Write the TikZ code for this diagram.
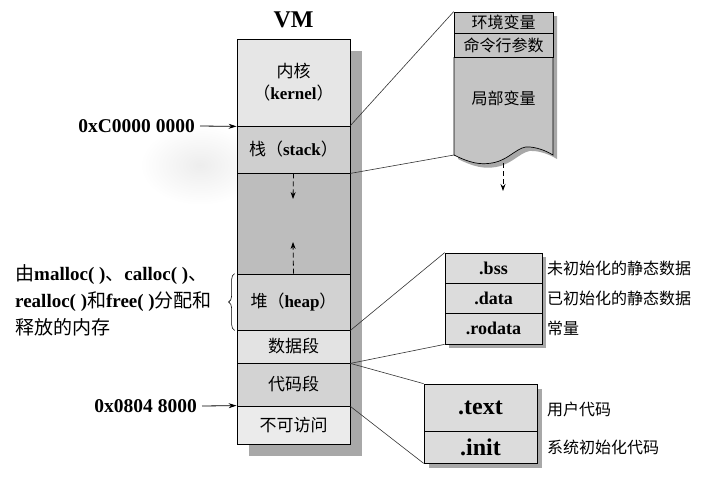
\documentclass[tikz,border=0pt]{standalone}
\usepackage{fontspec}
\setmainfont{Liberation Serif}
\newfontfamily\cjk{Noto Sans CJK SC}
\usetikzlibrary{arrows.meta,decorations.pathreplacing}
\newcommand\zh[1]{{\cjk\mdseries #1}}
\definecolor{cKern}{HTML}{E6E6E6}
\definecolor{cStack}{HTML}{CFCFCF}
\definecolor{cGap}{HTML}{BDBDBD}
\definecolor{cHeap}{HTML}{D2D2D2}
\definecolor{cData}{HTML}{E3E3E3}
\definecolor{cCode}{HTML}{D3D3D3}
\definecolor{cNoacc}{HTML}{EBEBEB}
\definecolor{cShadow}{HTML}{A8A8A8}
\definecolor{cFrame}{HTML}{C4C4C4}
\definecolor{cBox}{HTML}{DCDCDC}
\begin{document}
\begin{tikzpicture}[x=1pt,y=-1pt,
  seg/.style={draw=black, line width=0.8pt, minimum width=113pt, inner sep=0pt, align=center,
    font=\fontsize{17}{22}\selectfont\bfseries},
  frow/.style={draw=black, line width=0.7pt, minimum width=99pt, inner sep=0pt, fill=cFrame,
    font=\fontsize{16}{18}\selectfont\cjk},
  dbox/.style={draw=black, line width=0.7pt, minimum width=97pt, inner sep=0pt, fill=cBox,
    font=\fontsize{18}{20}\selectfont\bfseries},
  tbox/.style={draw=black, line width=0.7pt, minimum width=113pt, inner sep=0pt, fill=cBox,
    font=\fontsize{24}{26}\selectfont\bfseries},
  lab/.style={anchor=west, inner sep=0pt, font=\fontsize{16}{18}\selectfont\cjk},
  conn/.style={line width=0.6pt, draw=black!80},
  addr/.style={anchor=east, inner sep=0pt, font=\fontsize{19.5}{22}\selectfont\bfseries},
  addrarrow/.style={line width=0.8pt, -{Stealth[length=8pt,width=5pt]}},
  dasharrow/.style={line width=0.8pt, dash pattern=on 5pt off 3pt, -{Stealth[length=7pt,width=5pt]}}
]
\useasboundingbox (0,0) rectangle (727,477);
% faint smudge
\shade[inner color=black!7, outer color=white] (200,165) ellipse (60 and 40);

% title
\node[font=\fontsize{24}{26}\selectfont\bfseries] (vm) at (293.5,20) {VM};

% column shadow
\fill[cShadow] (249,51) rectangle (362,456);

% column segments
\node[seg, minimum height=87pt, fill=cKern] (kernel) at (293.5,82.5) {\zh{内核}\\\zh{（}kernel\zh{）}};
\node[seg, minimum height=47pt, fill=cStack] (stack) at (293.5,149.5) {\zh{栈（}stack\zh{）}};
\node[seg, minimum height=101pt, fill=cGap] (gap) at (293.5,223.5) {};
\node[seg, minimum height=56pt, fill=cHeap] (heap) at (293.5,302) {\zh{堆（}heap\zh{）}};
\node[seg, minimum height=33pt, fill=cData] (datas) at (293.5,346.5) {\zh{数据段}};
\node[seg, minimum height=43pt, fill=cCode] (code) at (293.5,384.5) {\zh{代码段}};
\node[seg, minimum height=38pt, fill=cNoacc] (noacc) at (293.5,425) {\zh{不可访问}};

% dashed arrows in the gap
\coordinate (gdown) at (293,199);
\coordinate (gup) at (293,242);
\draw[dasharrow] (stack.south) -- (gdown);
\draw[dasharrow] (heap.north) -- (gup);

% addresses
\node[addr] (addr1) at (195,126) {0xC0000 0000};
\node[addr] (addr2) at (197,406) {0x0804 8000};
\draw[addrarrow] ([xshift=5pt]addr1.east) -- (kernel.south west);
\draw[addrarrow] ([xshift=5pt]addr2.east) -- (noacc.north west);

% brace and note
\draw[line width=0.6pt, decorate, decoration={brace, amplitude=6pt}]
  ([xshift=-2pt]heap.south west) -- ([xshift=-2pt]heap.north west);
\node[anchor=west, align=left, inner sep=0pt, font=\fontsize{19}{27}\selectfont\bfseries] (note) at (15,300)
  {\zh{由}malloc( )\zh{、}calloc( )\zh{、}\\realloc( )\zh{和}free( )\zh{分配和}\\\zh{释放的内存}};

% stack frame
\fill[cShadow] (458,16) -- (458,159) .. controls (474,167) and (484,169) .. (496,167)
  .. controls (514,164) and (522,149) .. (534,151) .. controls (544,152) and (552,156) .. (557,159) -- (557,16) -- cycle;
\filldraw[fill=cFrame, draw=black, line width=0.7pt] (454,57) -- (454,155) .. controls (470,163) and (480,165) .. (492,163)
  .. controls (510,160) and (518,145) .. (530,147) .. controls (540,148) and (548,152) .. (553,155) -- (553,57);
\node[frow, minimum height=21pt] (env) at (503.5,22.5) {环境变量};
\node[frow, minimum height=24pt] (cmd) at (503.5,45) {命令行参数};
\node[font=\fontsize{16}{18}\selectfont\cjk, inner sep=0pt] (local) at (503.5,98) {局部变量};
\coordinate (lb) at (454,155);
\coordinate (fdown) at (503,191);
\draw[dasharrow] (503,163) -- (fdown);

\draw[conn] (stack.north east) -- (env.north west);
\draw[conn] (stack.south east) -- (lb);

% data boxes
\fill[cShadow] (449,257) rectangle (546,348);
\node[dbox, minimum height=30pt] (bss) at (493.5,268) {.bss};
\node[dbox, minimum height=30pt] (data) at (493.5,298) {.data};
\node[dbox, minimum height=31pt] (rodata) at (493.5,328.5) {.rodata};
\node[lab] (lbss) at (547,268) {未初始化的静态数据};
\node[lab] (ldata) at (547,298) {已初始化的静态数据};
\node[lab] (lrodata) at (547,328) {常量};

\draw[conn] (heap.south east) -- (bss.north west);
\draw[conn] (datas.south east) -- (rodata.south west);

% text boxes
\fill[cShadow] (429,389) rectangle (542,468);
\node[tbox, minimum height=47pt] (text) at (480.5,407.5) {.text};
\node[tbox, minimum height=32pt] (init) at (480.5,447) {.init};
\node[lab] (ltext) at (547,409) {用户代码};
\node[lab] (linit) at (547,447) {系统初始化代码};

\draw[conn] (datas.south east) -- (text.north west);
\draw[conn] (code.south east) -- (init.south west);
\end{tikzpicture}
\end{document}
